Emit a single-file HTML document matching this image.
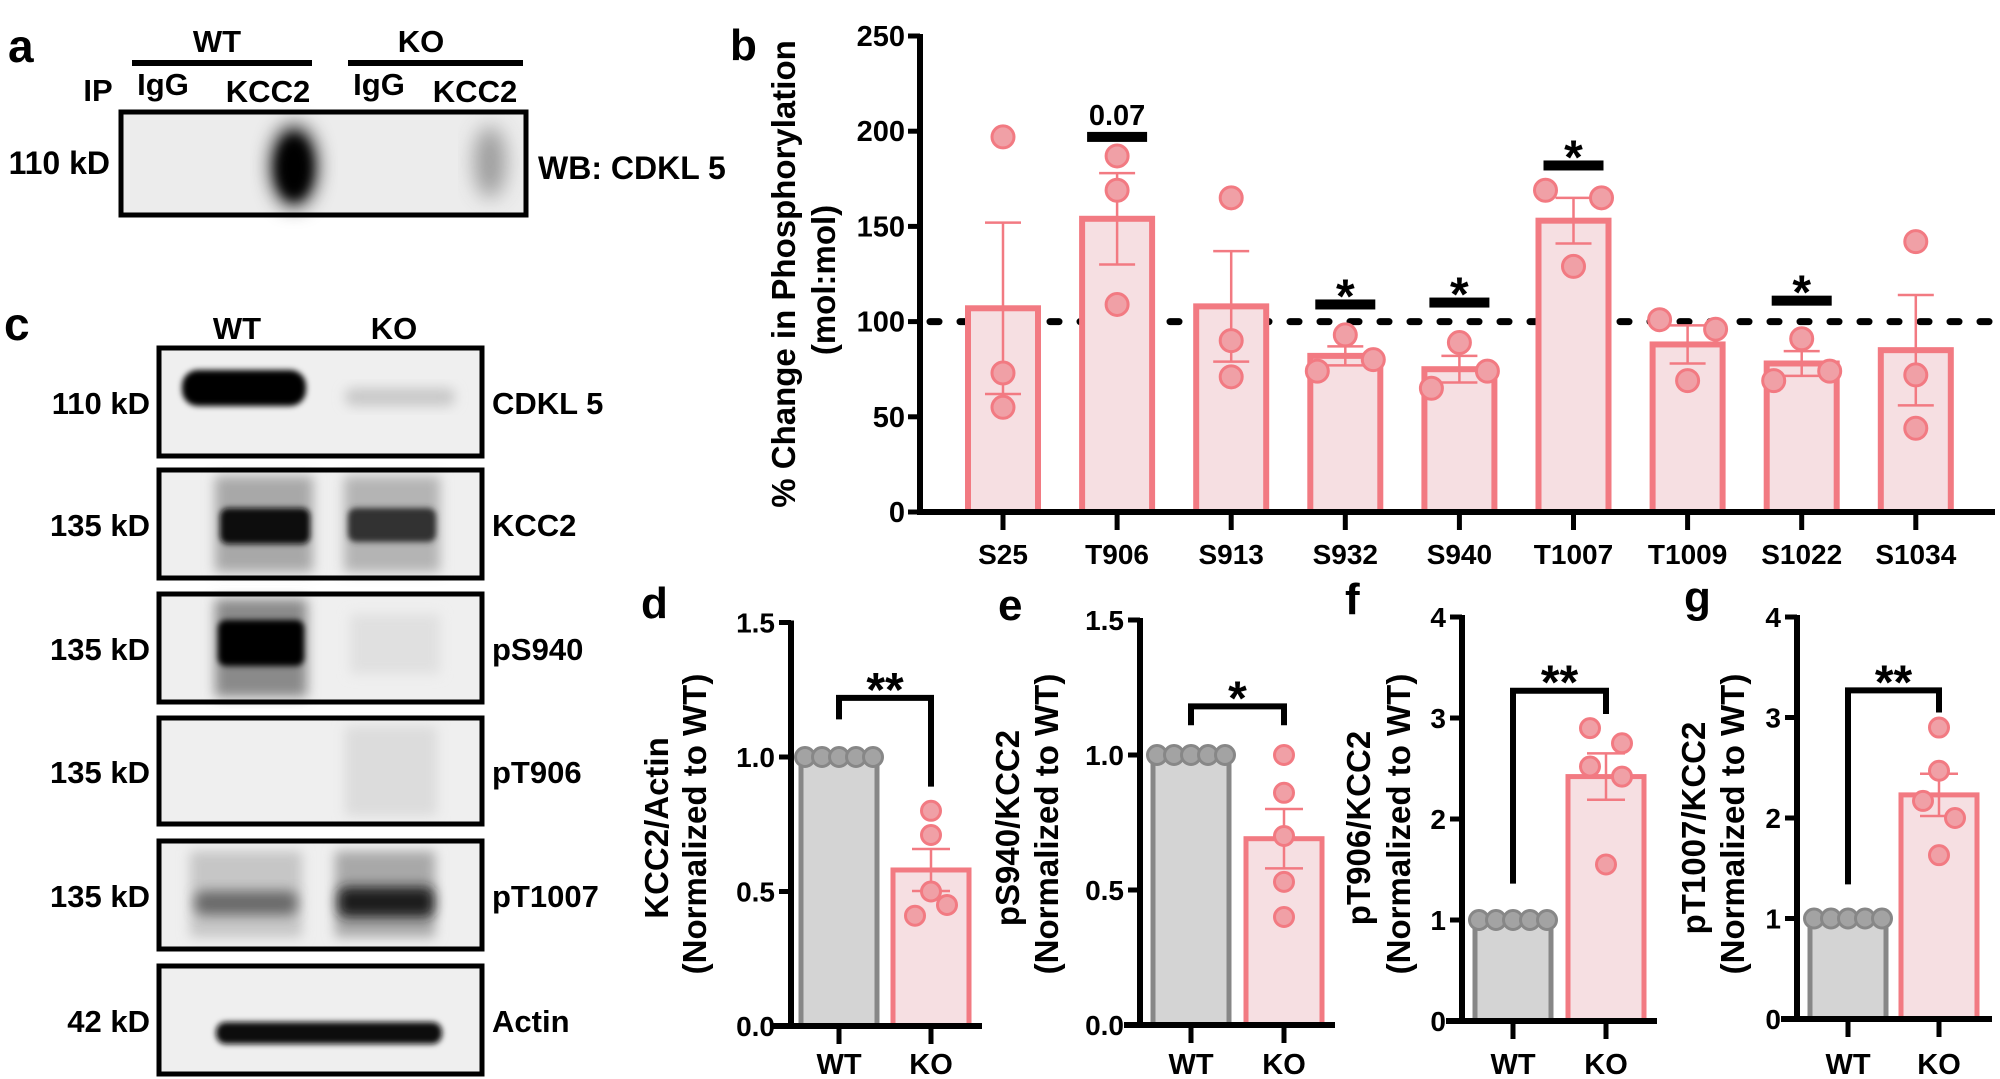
<!DOCTYPE html>
<html><head><meta charset="utf-8">
<style>
html,body{margin:0;padding:0;background:#fff;}
svg{display:block;font-family:"Liberation Sans",Arial,sans-serif;font-weight:bold;}
</style></head>
<body>
<svg id="fig" width="2000" height="1079" viewBox="0 0 2000 1079" xmlns="http://www.w3.org/2000/svg">
<defs>
<filter id="blur6" x="-50%" y="-50%" width="200%" height="200%"><feGaussianBlur stdDeviation="6"/></filter>
<filter id="blur10" x="-50%" y="-50%" width="200%" height="200%"><feGaussianBlur stdDeviation="10"/></filter>
<filter id="blur3" x="-50%" y="-50%" width="200%" height="200%"><feGaussianBlur stdDeviation="3"/></filter>
</defs>

<g>
<text x="8" y="62" font-size="46">a</text>
<text x="217" y="52" font-size="31" text-anchor="middle">WT</text>
<rect x="132" y="60" width="180" height="6" fill="#000"/>
<text x="421" y="52" font-size="31" text-anchor="middle">KO</text>
<rect x="348" y="60" width="175" height="6" fill="#000"/>
<text x="98" y="101" font-size="31" text-anchor="middle">IP</text>
<text x="163" y="95" font-size="31" text-anchor="middle">IgG</text>
<text x="268" y="102" font-size="31" text-anchor="middle">KCC2</text>
<text x="379" y="95" font-size="31" text-anchor="middle">IgG</text>
<text x="475" y="102" font-size="31" text-anchor="middle">KCC2</text>
<g>
<rect x="121" y="112" width="405" height="103" fill="#ececec"/>
<ellipse cx="294" cy="166" rx="22" ry="40" fill="#000" filter="url(#blur10)"/>
<ellipse cx="294" cy="168" rx="16" ry="30" fill="#000" filter="url(#blur6)"/>
<ellipse cx="490" cy="162" rx="16" ry="36" fill="#888" filter="url(#blur10)" opacity="0.8"/>
<rect x="121" y="112" width="405" height="103" fill="none" stroke="#000" stroke-width="5"/>
</g>
<text x="110" y="174" font-size="32" text-anchor="end">110 kD</text>
<text x="538" y="179" font-size="32">WB: CDKL 5</text>
</g>

<g>
<text x="4" y="340" font-size="46">c</text>
<text x="237" y="339" font-size="31" text-anchor="middle">WT</text>
<text x="394" y="339" font-size="31" text-anchor="middle">KO</text>
<g id="blots"></g>
</g>

<g id="panelB"></g>
<g id="minis"></g>
</svg>

<script>
const bCats = ['S25','T906','S913','S932','S940','T1007','T1009','S1022','S1034'];
const bMeans = [107,154,108,82,75,153,88,78,85];
const bSem = [45,24,29,5,7,12,10,6.5,29];
const bPoints = [[197,73,55],[187,169,109],[165,90,71],[93,74,80],[89,65,74],[169,165,129],[101,69,96],[91,69,74],[142,72,44]];
const bJitter = [[0,0,0],[0,0,0],[0,0,0],[0,-1,1],[0,-1,1],[-1,1,0],[-1,0,1],[0,-1,1],[0,0,0]];
const bTicks = [0,50,100,150,200,250];
const bSigIdx = [1,3,4,5,7];
const bSigLabels = ['0.07','*','*','*','*'];
const bSigLevel = [197,109,110,182,111];

const dKO = [0.80,0.71,0.50,0.45,0.41];
const dKOJit = [0,0,0,1,-1];
const dMean = 0.58, dSem = 0.078;
const eKO = [1.0,0.86,0.70,0.53,0.40];
const eKOJit = [0,0,0,0,0];
const eMean = 0.69, eSem = 0.11;
const fKO = [2.9,2.75,2.52,2.42,1.55];
const fKOJit = [-1,1,-1,1,0];
const fMean = 2.42, fSem = 0.23;
const gKO = [2.9,2.47,2.17,2.0,1.63];
const gKOJit = [0,0,-1,1,0];
const gMean = 2.23, gSem = 0.21;
const wtValue = 1.0;
const smallTicksA = [0,0.5,1,1.5];
const smallTickLabelsA = ['0.0','0.5','1.0','1.5'];
const smallTicksB = [0,1,2,3,4];
const smallTickLabelsB = ['0','1','2','3','4'];

const NS = 'http://www.w3.org/2000/svg';
const PINK = '#f27a82', PINKFILL = '#f6dfe2', DOTFILL = '#f0a0a6', GRAY = '#878787', GRAYFILL = '#d4d4d4';
function mk(tag, attrs, parent) {
  const e = document.createElementNS(NS, tag);
  for (const k in attrs) e.setAttribute(k, attrs[k]);
  parent.appendChild(e);
  return e;
}

const blots = document.getElementById('blots');
const blotTops = [348,470,594,718,841,966];
const blotH = [108,108,108,106,108,108];
const blotL = ['110 kD','135 kD','135 kD','135 kD','135 kD','42 kD'];
const blotR = ['CDKL 5','KCC2','pS940','pT906','pT1007','Actin'];
const blotNames = ['cdkl5','kcc2','ps940','pt906','pt1007','actin'];
blotTops.forEach((t,i)=>{
  const g = mk('g',{},blots);
  
  
  mk('rect',{x:159,y:t,width:323,height:blotH[i],fill:'#efefef'},g);
  const cy = t+blotH[i]/2;
  if(i===0){
    mk('rect',{x:182,y:t+22,width:124,height:36,rx:16,fill:'#000',filter:'url(#blur3)'},g);
    mk('rect',{x:345,y:t+40,width:110,height:18,rx:8,fill:'#c8c8c8',filter:'url(#blur6)'},g);
  } else if(i===1){
    mk('rect',{x:215,y:t+6,width:98,height:96,fill:'#a8a8a8',filter:'url(#blur6)'},g);
    mk('rect',{x:344,y:t+6,width:96,height:96,fill:'#b4b4b4',filter:'url(#blur6)'},g);
    mk('rect',{x:220,y:t+38,width:90,height:36,rx:8,fill:'#080808',filter:'url(#blur3)'},g);
    mk('rect',{x:348,y:t+38,width:88,height:34,rx:8,fill:'#333',filter:'url(#blur3)'},g);
  } else if(i===2){
    mk('rect',{x:215,y:t+5,width:92,height:98,fill:'#8a8a8a',filter:'url(#blur6)'},g);
    mk('rect',{x:218,y:t+26,width:86,height:46,rx:8,fill:'#060606',filter:'url(#blur3)'},g);
    mk('rect',{x:350,y:t+20,width:90,height:60,fill:'#e0e0e0',filter:'url(#blur6)'},g);
  } else if(i===3){
    mk('rect',{x:345,y:t+8,width:92,height:90,fill:'#dcdcdc',filter:'url(#blur6)'},g);
  } else if(i===4){
    mk('rect',{x:190,y:t+10,width:112,height:86,fill:'#c6c6c6',filter:'url(#blur6)'},g);
    mk('rect',{x:335,y:t+10,width:100,height:86,fill:'#a8a8a8',filter:'url(#blur6)'},g);
    mk('rect',{x:195,y:cy-4,width:102,height:24,rx:8,fill:'#6a6a6a',filter:'url(#blur6)'},g);
    mk('rect',{x:338,y:cy-8,width:96,height:30,rx:8,fill:'#1a1a1a',filter:'url(#blur6)'},g);
  } else {
    mk('rect',{x:216,y:cy+2,width:226,height:22,rx:10,fill:'#0a0a0a',filter:'url(#blur3)'},g);
  }
  mk('rect',{x:159,y:t,width:323,height:blotH[i],fill:'none',stroke:'#000','stroke-width':5},g);
  const tl = mk('text',{x:150,y:cy+12,'font-size':31,'text-anchor':'end'},g);
  tl.textContent = blotL[i];
  
  
  const tr = mk('text',{x:492,y:cy+12,'font-size':31},g);
  tr.textContent = blotR[i];
  
  
});

const pb = document.getElementById('panelB');
const B_AX = 920, B_Y0 = 512, B_PPU = 1.904, B_X0 = 1003, B_STEP = 114.1, B_BW = 70;
const yB = v => B_Y0 - v*B_PPU;
const xB = i => B_X0 + i*B_STEP;

const lb = mk('text',{x:730,y:60,'font-size':44},pb);
lb.textContent='b';



const t1 = mk('text',{x:0,y:0,'font-size':33,'text-anchor':'middle',transform:'translate(795,274) rotate(-90)'},pb);
t1.textContent='% Change in Phosphorylation';


const t2 = mk('text',{x:0,y:0,'font-size':33,'text-anchor':'middle',transform:'translate(835,280) rotate(-90)'},pb);
t2.textContent='(mol:mol)';



const dl = mk('line',{x1:B_AX+10,x2:1995,y1:yB(100),y2:yB(100),stroke:'#000','stroke-width':7,'stroke-dasharray':'9 21','stroke-linecap':'round'},pb);



bCats.forEach((c,i)=>{
  const g = mk('g',{},pb);
  
  
  const bar = mk('rect',{x:xB(i)-B_BW/2,y:yB(bMeans[i]),width:B_BW,height:B_Y0-yB(bMeans[i]),fill:PINKFILL,stroke:PINK,'stroke-width':6},g);
  
  
  const top = yB(bMeans[i]+bSem[i]), bot = yB(bMeans[i]-bSem[i]);
  const eb = mk('path',{d:`M${xB(i)},${top}V${bot}M${xB(i)-18},${top}H${xB(i)+18}M${xB(i)-18},${bot}H${xB(i)+18}`,stroke:PINK,'stroke-width':2.5,fill:'none'},g);
  
  
  bPoints[i].forEach((v,j)=>{
    const d = mk('circle',{cx:xB(i)+bJitter[i][j]*28,cy:yB(v),r:11,fill:DOTFILL,stroke:PINK,'stroke-width':3},g);
    
    
  });
  const tk = mk('line',{x1:xB(i),x2:xB(i),y1:B_Y0,y2:B_Y0+18,stroke:'#000','stroke-width':5},pb);
  
  
  const tl = mk('text',{x:xB(i),y:B_Y0+52,'font-size':28,'text-anchor':'middle'},pb);
  tl.textContent=c;
  
  
});
bSigIdx.forEach((idx,k)=>{
  const y = yB(bSigLevel[k]);
  const r = mk('rect',{x:xB(idx)-30,y:y-5,width:60,height:10,fill:'#000'},pb);
  
  
  const isStar = bSigLabels[k]==='*';
  const t = mk('text',{x:xB(idx),y:isStar?y+8:y-12,'font-size':isStar?48:29,'text-anchor':'middle'},pb);
  t.textContent=bSigLabels[k];
  
  
});
const yax = mk('line',{x1:B_AX,x2:B_AX,y1:yB(250)-2,y2:B_Y0+2,stroke:'#000','stroke-width':6},pb);


const xax = mk('line',{x1:B_AX-3,x2:1995,y1:B_Y0,y2:B_Y0,stroke:'#000','stroke-width':6},pb);


bTicks.forEach(v=>{
  const tk = mk('line',{x1:B_AX-12,x2:B_AX,y1:yB(v),y2:yB(v),stroke:'#000','stroke-width':5},pb);
  
  
  const tl = mk('text',{x:B_AX-15,y:yB(v)+10,'font-size':29,'text-anchor':'end'},pb);
  tl.textContent=String(v);
  
  
});

const minis = document.getElementById('minis');
const miniCfg = [
 {id:'d',ax:791,y0:1026,ppu:269,xs:772,xe:982,wt:839,ko:931,ko_v:dKO,jit:dKOJit,mean:dMean,sem:dSem,ticks:smallTicksA,labs:smallTickLabelsA,top:1.5,br:[1.22,1.14,0.89],sig:'**',t1:'KCC2/Actin',l1x:668,l2x:706,letter:[641,618]},
 {id:'e',ax:1140,y0:1025,ppu:270,xs:1124,xe:1335,wt:1191,ko:1284,ko_v:eKO,jit:eKOJit,mean:eMean,sem:eSem,ticks:smallTicksA,labs:smallTickLabelsA,top:1.5,br:[1.18,1.11,1.11],sig:'*',t1:'pS940/KCC2',l1x:1019,l2x:1058,letter:[998,620]},
 {id:'f',ax:1462,y0:1021,ppu:101,xs:1446,xe:1657,wt:1513,ko:1606,ko_v:fKO,jit:fKOJit,mean:fMean,sem:fSem,ticks:smallTicksB,labs:smallTickLabelsB,top:4,br:[3.27,1.36,3.04],sig:'**',t1:'pT906/KCC2',l1x:1370,l2x:1410,letter:[1345,614]},
 {id:'g',ax:1797,y0:1019,ppu:100.5,xs:1781,xe:1992,wt:1848,ko:1939,ko_v:gKO,jit:gKOJit,mean:gMean,sem:gSem,ticks:smallTicksB,labs:smallTickLabelsB,top:4,br:[3.27,1.34,3.05],sig:'**',t1:'pT1007/KCC2',l1x:1705,l2x:1744,letter:[1684,612]}
];
miniCfg.forEach(c=>{
  const g = mk('g',{},minis);
  
  
  const y = v => c.y0 - v*c.ppu;
  const L = mk('text',{x:c.letter[0],y:c.letter[1],'font-size':44},g);
  L.textContent=c.id;
  
  
  const a1 = mk('text',{x:0,y:0,'font-size':33,'text-anchor':'middle',transform:`translate(${c.l1x},828) rotate(-90)`},g);
  a1.textContent=c.t1;
  
  
  const a2 = mk('text',{x:0,y:0,'font-size':33,'text-anchor':'middle',transform:`translate(${c.l2x},824) rotate(-90)`},g);
  a2.textContent='(Normalized to WT)';
  
  
  const wb = mk('rect',{x:c.wt-38,y:y(wtValue),width:76,height:c.y0-y(wtValue),fill:GRAYFILL,stroke:GRAY,'stroke-width':5},g);
  
  
  for(let k=-2;k<=2;k++){
    const d = mk('circle',{cx:c.wt+k*17,cy:y(wtValue),r:9.5,fill:'#a3a3a3',stroke:GRAY,'stroke-width':3},g);
    
    
  }
  const kb = mk('rect',{x:c.ko-38,y:y(c.mean),width:76,height:c.y0-y(c.mean),fill:PINKFILL,stroke:PINK,'stroke-width':5},g);
  
  
  const et=y(c.mean+c.sem), ebm=y(c.mean-c.sem);
  const eb = mk('path',{d:`M${c.ko},${et}V${ebm}M${c.ko-19},${et}H${c.ko+19}M${c.ko-19},${ebm}H${c.ko+19}`,stroke:PINK,'stroke-width':2.5,fill:'none'},g);
  
  
  c.ko_v.forEach((v,j)=>{
    const d = mk('circle',{cx:c.ko+c.jit[j]*16,cy:y(v),r:9.5,fill:DOTFILL,stroke:PINK,'stroke-width':3},g);
    
    
  });
  const br = mk('path',{d:`M${c.wt},${y(c.br[1])}V${y(c.br[0])}H${c.ko}V${y(c.br[2])}`,stroke:'#000','stroke-width':6,fill:'none'},g);
  
  
  const st = mk('text',{x:(c.wt+c.ko)/2,y:y(c.br[0])+8,'font-size':48,'text-anchor':'middle'},g);
  st.textContent=c.sig;
  
  
  const ya = mk('line',{x1:c.ax,x2:c.ax,y1:y(c.top)-2,y2:c.y0+2,stroke:'#000','stroke-width':6},g);
  
  
  const xa = mk('line',{x1:c.xs,x2:c.xe,y1:c.y0,y2:c.y0,stroke:'#000','stroke-width':6},g);
  
  
  c.ticks.forEach((v,k)=>{
    const tk = mk('line',{x1:c.ax-12,x2:c.ax,y1:y(v),y2:y(v),stroke:'#000','stroke-width':5},g);
    
    
    const tl = mk('text',{x:c.ax-16,y:y(v)+10,'font-size':28,'text-anchor':'end'},g);
    tl.textContent=c.labs[k];
    
    
  });
  [['WT',c.wt],['KO',c.ko]].forEach(([n,x])=>{
    const tk = mk('line',{x1:x,x2:x,y1:c.y0,y2:c.y0+18,stroke:'#000','stroke-width':5},g);
    
    
    const tl = mk('text',{x:x,y:1074,'font-size':29,'text-anchor':'middle'},g);
    tl.textContent=n;
    
    
  });
});
</script>
</body></html>
